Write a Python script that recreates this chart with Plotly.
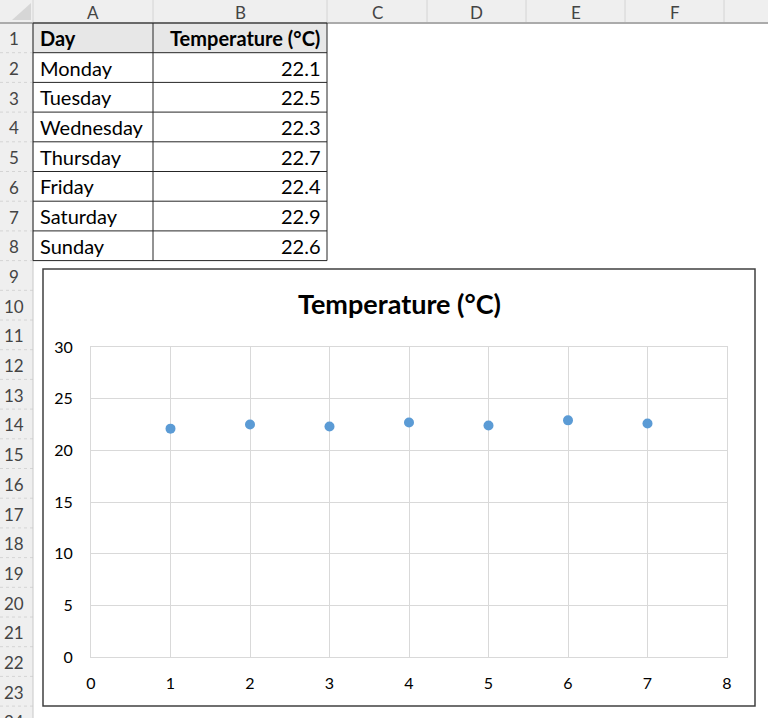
import plotly.graph_objects as go

W, H = 768, 718

days = ["Monday", "Tuesday", "Wednesday", "Thursday", "Friday", "Saturday", "Sunday"]
temps = [22.1, 22.5, 22.3, 22.7, 22.4, 22.9, 22.6]
day_index = [1, 2, 3, 4, 5, 6, 7]
headers = ["Day", "Temperature (°C)"]
col_letters = ["A", "B", "C", "D", "E", "F"]
row_numbers = list(range(1, 25))

# sheet geometry in pixels
HEAD_H = 23
ROW_H = 29.7
ROWHDR_W = 33
col_edges = [33, 153, 327, 427, 526, 625, 724]
FONT = "Lato"


def X(px):
    return px / W


def Y(py):
    return 1 - py / H


def row_top(r):
    return HEAD_H + (r - 1) * ROW_H


shapes = []
annotations = []


def line(x0, y0, x1, y1, color, width=1, dash=None):
    d = dict(type="line", xref="paper", yref="paper",
             x0=X(x0), y0=Y(y0), x1=X(x1), y1=Y(y1),
             line=dict(color=color, width=width))
    if dash:
        d["line"]["dash"] = dash
    shapes.append(d)


def rect(x0, y0, x1, y1, fill, color=None, width=0, layer="below"):
    shapes.append(dict(type="rect", xref="paper", yref="paper",
                       x0=X(x0), y0=Y(y0), x1=X(x1), y1=Y(y1),
                       fillcolor=fill, layer=layer,
                       line=dict(color=color or fill, width=width)))


def text(x, y, s, size=20, anchor="left", bold=False, color="#000000"):
    if bold:
        s = "<b>" + s + "</b>"
    annotations.append(dict(xref="paper", yref="paper", x=X(x), y=Y(y),
                            text=s, showarrow=False, xanchor=anchor,
                            yanchor="middle",
                            font=dict(family=FONT, size=size, color=color)))


# headers of the sheet
rect(0, 0, W, HEAD_H, "#EFEFEF")
rect(0, HEAD_H, ROWHDR_W, H, "#EFEFEF")
shapes.append(dict(type="path", xref="paper", yref="paper",
                   path="M %f,%f L %f,%f L %f,%f Z" % (X(31), Y(3), X(31), Y(20), X(12), Y(20)),
                   fillcolor="#D6D6D6", line=dict(width=0)))
for i, cx in enumerate(col_edges):
    line(cx, 0, cx, HEAD_H, "#D4D4D4")
for i, letter in enumerate(col_letters):
    text((col_edges[i] + col_edges[i + 1]) / 2, HEAD_H / 2 + 1, letter,
         size=17, anchor="center", color="#444444")

for r in row_numbers:
    line(0, row_top(r) + ROW_H, ROWHDR_W, row_top(r) + ROW_H, "#D4D4D4", dash="dot")
    text(14, row_top(r) + ROW_H / 2 + 1, str(r), size=17, anchor="center", color="#444444")
line(0, HEAD_H, W, HEAD_H, "#ABABAB", width=2)
line(ROWHDR_W, HEAD_H, ROWHDR_W, H, "#C8C8C8")

# data table A1:B8
rect(col_edges[0], row_top(1), col_edges[2], row_top(2), "#E7E7E7")
text(col_edges[0] + 5, row_top(1) + ROW_H / 2, headers[0], bold=True)
text(col_edges[2] - 5, row_top(1) + ROW_H / 2, headers[1], anchor="right", bold=True)
for i, (d, t) in enumerate(zip(days, temps)):
    r = i + 2
    text(col_edges[0] + 5, row_top(r) + ROW_H / 2, d)
    text(col_edges[2] - 4, row_top(r) + ROW_H / 2, "%.1f" % t, anchor="right")
for r in range(1, 10):
    line(col_edges[0], row_top(r), col_edges[2], row_top(r), "#262626")
for cx in col_edges[:3]:
    line(cx, row_top(1), cx, row_top(9), "#262626")

# chart frame
rect(43, 269, 755, 706, "#FFFFFF", color="#404040", width=1.5)
text(399, 303, "Temperature (°C)", size=27, anchor="center", bold=True)

fig = go.Figure()
fig.add_trace(go.Scatter(
    x=day_index, y=temps, mode="markers",
    marker=dict(color="#5B9BD5", size=10),
    name="Temperature (°C)",
))

axis_font = dict(family=FONT, size=16, color="#000000")
fig.update_layout(
    width=W, height=H,
    margin=dict(l=0, r=0, t=0, b=0, pad=0, autoexpand=False),
    paper_bgcolor="#FFFFFF",
    plot_bgcolor="rgba(0,0,0,0)",
    showlegend=False,
    shapes=shapes,
    annotations=annotations,
    xaxis=dict(
        domain=[X(91), X(727)], range=[0, 8], dtick=1,
        showgrid=True, gridcolor="#D9D9D9", zeroline=False,
        showline=True, linecolor="#D9D9D9", mirror=True,
        ticks="", tickfont=axis_font, ticklabelstandoff=12,
        fixedrange=True,
    ),
    yaxis=dict(
        domain=[Y(657), Y(347)], range=[0, 30], dtick=5,
        showgrid=True, gridcolor="#D9D9D9", zeroline=False,
        showline=True, linecolor="#D9D9D9", mirror=True,
        ticks="", tickfont=axis_font, ticklabelstandoff=14,
        fixedrange=True,
    ),
)

# drop the default page margin so the sheet starts at the window corner
fig.write_html("out.html", config={"displayModeBar": False},
               post_script="document.body.style.margin='0';")
